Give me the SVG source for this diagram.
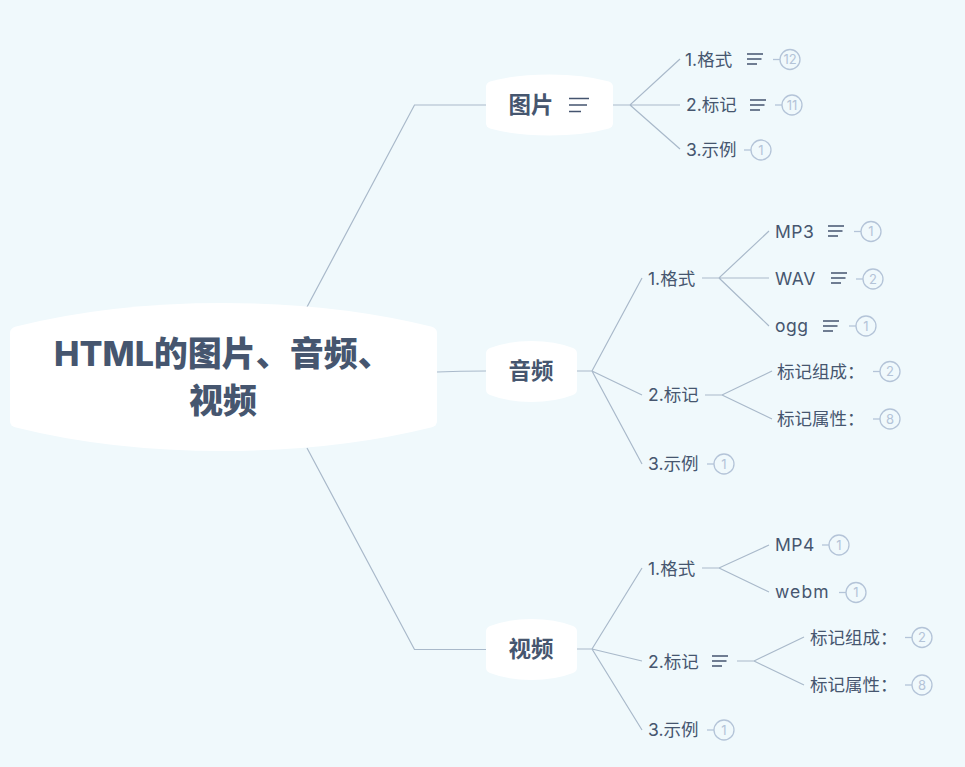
<svg xmlns="http://www.w3.org/2000/svg" width="965" height="767" viewBox="0 0 965 767">
<style>
text{font-family:"Inter","Noto Sans CJK SC",sans-serif;fill:#46566f}
.root{font-size:34px;font-weight:800;text-anchor:middle}
.main{font-size:22.500px;font-weight:700;text-anchor:middle}
.sub{font-size:17.500px}
.n{fill:#fff}
.c path{fill:none;stroke:#a9b9ca;stroke-width:1.2}
.ic{fill:none;stroke:#44546f;stroke-width:1.3}
.bd{fill:none;stroke:#b4c4d8;stroke-width:1.3}
.bt{font-size:13px;fill:#b4c4d8;text-anchor:middle}
</style>
<defs>
<path id="icon" class="ic" d="M0 -5H16M0 0H14.500M0 5H10"/>
<path id="icon2" class="ic" d="M0 -6.500H20M0 0H18M0 6.500H12"/>
<g id="b"><path class="bd" d="M-17 0H-10"/><circle class="bd" cx="0" cy="0" r="10"/></g>
<path id="ms" class="n" d="M486 -18Q486 -22 490 -23.500Q508 -30.500 531.500 -30.500Q555 -30.500 573 -23.500Q577 -22 577 -18V18Q577 22 573 23.500Q555 30.500 531.500 30.500Q508 30.500 490 23.500Q486 22 486 18Z"/>
</defs>
<rect width="965" height="767" fill="#f0f9fc"/>
<g id="connectors" class="c">
<path d="M307 307L414.500 105H486"/>
<path d="M437 372Q460 371 486 371"/>
<path d="M307 448L414.500 649.500H486"/>
<path d="M613 105H630L680 59M630 105H680M630 105L680 149"/>
<path d="M577 371H592L642 278M592 371L642 395M592 371L642 464"/>
<path d="M702 278H719L769 231M719 278H769M719 278L769 326"/>
<path d="M705 395H722L772 371M722 395L772 419"/>
<path d="M577 649H592L642 568M592 649L642 661M592 649L642 730"/>
<path d="M702 568H719L769 545M719 568L769 592"/>
<path d="M737 661H754L804 637M754 661L804 685"/>
</g>
<g id="root"><path class="n" d="M10 333Q10 328 16 326.500Q110 303 223 303Q336 303 431 326.500Q437 328 437 333V421Q437 426 431 427.500Q336 451 223 451Q110 451 16 427.500Q10 426 10 421Z"/>
<text class="root" x="223" y="366">HTML的图片、音频、</text><text class="root" x="223" y="413">视频</text></g>
<g id="n-img"><path class="n" d="M486 87Q486 83 490 81.500Q515 74.500 549.500 74.500Q584 74.500 609 81.500Q613 83 613 87V123Q613 127 609 128.500Q584 135.500 549.500 135.500Q515 135.500 490 128.500Q486 127 486 123Z"/>
<text class="main" x="531" y="113">图片</text><use href="#icon2" x="569" y="105"/></g>
<g id="n-aud"><use href="#ms" y="371.500"/><text class="main" x="531" y="379">音频</text></g>
<g id="n-vid"><use href="#ms" y="649.500"/><text class="main" x="531" y="657">视频</text></g>

<g id="i1"><text class="sub" x="685" y="66">1.格式</text><use href="#icon" x="747" y="59"/><use href="#b" x="790" y="59.500"/><text class="bt" x="790" y="64">12</text></g>
<g id="i2"><text class="sub" x="686" y="111">2.标记</text><use href="#icon" x="750" y="105"/><use href="#b" x="792" y="105"/><text class="bt" x="792" y="110">11</text></g>
<g id="i3"><text class="sub" x="686" y="156">3.示例</text><use href="#b" x="761" y="150"/><text class="bt" x="761" y="155">1</text></g>

<g id="a1"><text class="sub" x="648" y="285">1.格式</text></g>
<g id="a11"><text class="sub" x="775" y="238" letter-spacing=".5">MP3</text><use href="#icon" x="828" y="231"/><use href="#b" x="871" y="231.500"/><text class="bt" x="871" y="236">1</text></g>
<g id="a12"><text class="sub" x="775" y="285" letter-spacing=".5">WAV</text><use href="#icon" x="831" y="278"/><use href="#b" x="873" y="279"/><text class="bt" x="873" y="284">2</text></g>
<g id="a13"><text class="sub" x="775" y="332" letter-spacing=".5">ogg</text><use href="#icon" x="823" y="326"/><use href="#b" x="866" y="326"/><text class="bt" x="866" y="331">1</text></g>
<g id="a2"><text class="sub" x="648" y="401">2.标记</text></g>
<g id="a21"><text class="sub" x="777" y="378">标记组成：</text><use href="#b" x="890" y="371.500"/><text class="bt" x="890" y="376">2</text></g>
<g id="a22"><text class="sub" x="777" y="425">标记属性：</text><use href="#b" x="890" y="419"/><text class="bt" x="890" y="424">8</text></g>
<g id="a3"><text class="sub" x="648" y="470">3.示例</text><use href="#b" x="724" y="464"/><text class="bt" x="724" y="469">1</text></g>

<g id="v1"><text class="sub" x="648" y="575">1.格式</text></g>
<g id="v11"><text class="sub" x="775" y="551" letter-spacing=".5">MP4</text><use href="#b" x="839" y="545"/><text class="bt" x="839" y="550">1</text></g>
<g id="v12"><text class="sub" x="775" y="598" letter-spacing="1.100">webm</text><use href="#b" x="856" y="592.500"/><text class="bt" x="856" y="597">1</text></g>
<g id="v2"><text class="sub" x="648" y="668">2.标记</text><use href="#icon" x="712" y="661"/></g>
<g id="v21"><text class="sub" x="810" y="644">标记组成：</text><use href="#b" x="922" y="637.500"/><text class="bt" x="922" y="642">2</text></g>
<g id="v22"><text class="sub" x="810" y="691">标记属性：</text><use href="#b" x="922" y="685"/><text class="bt" x="922" y="690">8</text></g>
<g id="v3"><text class="sub" x="648" y="736">3.示例</text><use href="#b" x="724" y="730"/><text class="bt" x="724" y="735">1</text></g>
</svg>
